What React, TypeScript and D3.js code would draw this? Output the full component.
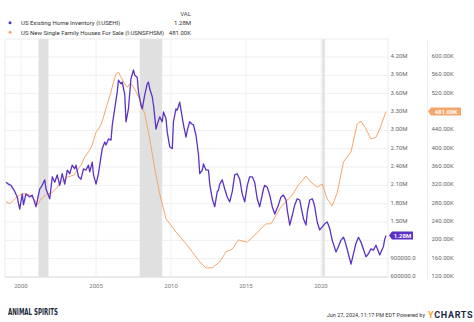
import React from "react";
import * as d3 from "d3";

const ehiData: [string, number][] = [
  ["1999-01", 2.15], ["1999-03", 2.12], ["1999-05", 2.1], ["1999-08", 2.0], ["1999-10", 1.91], ["1999-12", 1.71],
  ["2000-02", 1.96], ["2000-03", 1.78], ["2000-05", 1.96], ["2000-08", 1.91], ["2000-10", 1.94],
  ["2001-01", 1.75], ["2001-04", 2.04], ["2001-06", 2.1], ["2001-08", 2.19], ["2001-09", 2.04], ["2001-12", 1.88],
  ["2002-02", 2.24], ["2002-04", 2.15], ["2002-06", 2.27], ["2002-08", 2.1], ["2002-10", 2.29], ["2002-12", 2.12],
  ["2003-02", 2.35], ["2003-04", 2.29], ["2003-06", 2.43], ["2003-08", 2.37], ["2003-09", 2.43], ["2003-11", 2.24],
  ["2004-01", 2.2], ["2004-03", 2.37], ["2004-05", 2.35], ["2004-07", 2.43], ["2004-08", 2.32], ["2004-10", 2.48], ["2004-11", 2.27],
  ["2005-01", 2.12], ["2005-03", 2.29], ["2005-04", 2.43], ["2005-06", 2.7], ["2005-08", 2.81], ["2005-09", 2.76], ["2005-11", 2.86],
  ["2006-01", 2.84], ["2006-02", 3.09], ["2006-04", 3.35], ["2006-06", 3.63], ["2006-07", 3.82], ["2006-09", 3.76], ["2006-10", 3.79], ["2006-12", 3.59],
  ["2007-01", 3.14], ["2007-03", 3.35], ["2007-05", 3.84], ["2007-07", 3.99], ["2007-08", 3.9], ["2007-10", 3.87], ["2007-11", 3.63],
  ["2008-01", 3.41], ["2008-02", 3.35], ["2008-04", 3.58], ["2008-06", 3.76], ["2008-07", 3.79], ["2008-08", 3.68], ["2008-10", 3.55], ["2008-11", 3.41],
  ["2009-01", 3.02], ["2009-02", 3.1], ["2009-04", 3.22], ["2009-06", 3.14], ["2009-07", 3.3], ["2009-09", 3.19], ["2009-10", 2.97], ["2009-12", 2.73],
  ["2010-02", 2.7], ["2010-03", 3.14], ["2010-05", 3.35], ["2010-06", 3.33], ["2010-08", 3.46], ["2010-09", 3.33], ["2010-11", 3.09],
  ["2011-01", 2.89], ["2011-02", 3.0], ["2011-04", 3.14], ["2011-06", 3.1], ["2011-07", 3.09], ["2011-09", 2.92], ["2011-11", 2.6], ["2011-12", 2.29],
  ["2012-02", 2.35], ["2012-03", 2.45], ["2012-05", 2.35], ["2012-07", 2.35], ["2012-08", 2.12], ["2012-10", 1.88], ["2012-12", 1.75],
  ["2013-02", 2.0], ["2013-03", 2.02], ["2013-04", 2.12], ["2013-06", 2.19], ["2013-08", 2.04], ["2013-10", 1.91], ["2013-12", 1.83],
  ["2014-02", 2.0], ["2014-04", 2.27], ["2014-06", 2.29], ["2014-08", 2.2], ["2014-10", 1.96], ["2014-12", 1.83],
  ["2015-02", 2.1], ["2015-04", 2.24], ["2015-06", 2.24], ["2015-08", 2.15], ["2015-10", 1.88], ["2015-12", 1.75],
  ["2016-03", 2.04], ["2016-04", 2.1], ["2016-06", 2.07], ["2016-08", 1.94], ["2016-10", 1.75], ["2016-12", 1.63],
  ["2017-03", 1.78], ["2017-05", 1.91], ["2017-07", 1.94], ["2017-09", 1.86], ["2017-10", 1.7], ["2017-12", 1.45],
  ["2018-02", 1.61], ["2018-04", 1.78], ["2018-06", 1.88], ["2018-08", 1.86], ["2018-09", 1.75], ["2018-11", 1.55],
  ["2019-01", 1.45], ["2019-02", 1.66], ["2019-04", 1.86], ["2019-06", 1.88], ["2019-07", 1.83], ["2019-08", 1.75], ["2019-10", 1.5], ["2019-12", 1.37],
  ["2020-02", 1.42], ["2020-04", 1.47], ["2020-06", 1.5], ["2020-07", 1.45], ["2020-08", 1.39], ["2020-10", 1.2],
  ["2021-01", 1.01], ["2021-03", 1.1], ["2021-05", 1.2], ["2021-07", 1.25], ["2021-08", 1.2], ["2021-10", 1.05],
  ["2022-01", 0.81], ["2022-03", 0.98], ["2022-05", 1.15], ["2022-07", 1.25], ["2022-09", 1.17], ["2022-11", 1.05],
  ["2023-01", 0.93], ["2023-03", 0.98], ["2023-05", 1.06], ["2023-07", 1.04], ["2023-09", 1.12], ["2023-12", 0.96],
  ["2024-01", 1.01], ["2024-03", 1.1], ["2024-04", 1.22], ["2024-05", 1.28],
];

const nsfData: [string, number][] = [
  ["1999-01", 284], ["1999-04", 280], ["1999-08", 290], ["1999-12", 299], ["2000-04", 302], ["2000-08", 299], ["2000-12", 288],
  ["2001-02", 277], ["2001-05", 290], ["2001-10", 302], ["2002-01", 302], ["2002-06", 316], ["2002-09", 327],
  ["2003-02", 338], ["2003-07", 342], ["2003-10", 353], ["2004-01", 364], ["2004-04", 382], ["2004-07", 393], ["2004-10", 408],
  ["2005-01", 436], ["2005-03", 443], ["2005-05", 452], ["2005-07", 469], ["2005-10", 497], ["2006-01", 524], ["2006-03", 545],
  ["2006-05", 563], ["2006-07", 567], ["2006-09", 556], ["2006-12", 541], ["2007-02", 534], ["2007-04", 541], ["2007-06", 539],
  ["2007-08", 530], ["2007-12", 508], ["2008-04", 476], ["2008-08", 421], ["2008-12", 356], ["2009-04", 301], ["2009-09", 247],
  ["2010-01", 233], ["2010-05", 218], ["2010-12", 196], ["2011-06", 175], ["2011-12", 153], ["2012-05", 140], ["2012-10", 140],
  ["2013-04", 153], ["2013-09", 175], ["2014-02", 181], ["2014-07", 201], ["2015-02", 196], ["2015-09", 214], ["2016-05", 236],
  ["2016-09", 236], ["2017-05", 273], ["2018-02", 299], ["2018-07", 321], ["2019-01", 340], ["2019-05", 327], ["2019-10", 316],
  ["2020-02", 323], ["2020-06", 290], ["2020-10", 275], ["2021-02", 305], ["2021-07", 371], ["2021-11", 386], ["2022-01", 393],
  ["2022-06", 454], ["2022-09", 460], ["2023-01", 443], ["2023-05", 421], ["2023-09", 425], ["2023-12", 443], ["2024-05", 481],
];

const recessions: [string, string][] = [["2001-03", "2001-11"], ["2007-12", "2009-06"], ["2020-02", "2020-04"]];

const leftTickValues = [0.6, 0.9, 1.2, 1.5, 1.8, 2.1, 2.4, 2.7, 3.0, 3.3, 3.6, 3.9, 4.2];
const leftTickLabels = ["600000.0", "900000.0", "1.20M", "1.50M", "1.80M", "2.10M", "2.40M", "2.70M", "3.00M", "3.30M", "3.60M", "3.90M", "4.20M"];
const rightTickValues = [120, 160, 200, 240, 280, 320, 360, 400, 440, 480, 520, 560, 600];
const rightTickLabels = ["120.00K", "160.00K", "200.00K", "240.00K", "280.00K", "320.00K", "360.00K", "400.00K", "440.00K", "480.00K", "520.00K", "560.00K", "600.00K"];
const yearTicks = [2000, 2005, 2010, 2015, 2020];

const seriesNames = ["US Existing Home Inventory (I:USEHI)", "US New Single Family Houses For Sale (I:USNSFHSM)"];
const seriesValues = ["1.28M", "481.00K"];

const PURPLE = "#5b31c6";
const ORANGE = "#f6a66a";
const FONT = "Roboto, 'Noto Sans', sans-serif";

export default function App() {
  const parse = d3.timeParse("%Y-%m")!;
  const L = 5, R = 388, T = 39, B = 277;
  const x = d3.scaleTime().domain([new Date(2000, 0, 1), new Date(2020, 0, 1)]).range([21, 321]);
  const yL = d3.scaleLinear().domain([0.6, 4.2]).range([277, 57]);
  const yR = d3.scaleLinear().domain([120, 600]).range([277, 57]);

  const lineL = d3.line<[string, number]>().x(d => x(parse(d[0])!)).y(d => yL(d[1]));
  const lineR = d3.line<[string, number]>().x(d => x(parse(d[0])!)).y(d => yR(d[1]));

  const lastL = ehiData[ehiData.length - 1];
  const lastR = nsfData[nsfData.length - 1];
  const badgeL = yL(lastL[1]);
  const badgeR = yR(lastR[1]);

  const badge = (tipX: number, cy: number, w: number, color: string, label: string) => (
    <g>
      <path d={`M${tipX},${cy} L${tipX + 3},${cy - 4} L${tipX + 3 + w},${cy - 4} L${tipX + 3 + w},${cy + 4} L${tipX + 3},${cy + 4} Z`} fill={color} />
      <text x={tipX + 3 + w / 2} y={cy + 2.1} textAnchor="middle" fontSize={6} fontWeight="bold" fill="#fff" fontFamily={FONT}>{label}</text>
    </g>
  );

  return (
    <svg width={474} height={322} style={{ position: "absolute", left: 0, top: 0, background: "#fff" }} fontFamily={FONT}>
      <defs>
        <clipPath id="plotclip"><rect x={L} y={T} width={R - L} height={B - T} /></clipPath>
      </defs>
      {/* legend */}
      <text x={191} y={15.5} textAnchor="end" fontSize={6} fill="#444">VAL</text>
      {seriesNames.map((n, i) => (
        <g key={n}>
          <circle cx={10} cy={22.8 + i * 9.5} r={1.5} fill={i === 0 ? PURPLE : ORANGE} />
          <text x={21} y={25 + i * 9.5} fontSize={6} fill="#333">{n}</text>
          <text x={191} y={25 + i * 9.5} textAnchor="end" fontSize={6} fill="#333">{seriesValues[i]}</text>
        </g>
      ))}

      {/* plot frame & grid */}
      <rect x={L} y={T} width={R - L} height={B - T} fill="none" stroke="#ececec" strokeWidth={1} />
      {leftTickValues.map(v => (
        <line key={v} x1={L} x2={R} y1={yL(v)} y2={yL(v)} stroke="#efefef" strokeWidth={1} />
      ))}
      {yearTicks.map(yr => (
        <line key={yr} x1={x(new Date(yr, 0, 1))} x2={x(new Date(yr, 0, 1))} y1={T} y2={B} stroke="#f0f0f0" strokeWidth={1} />
      ))}
      <g clipPath="url(#plotclip)">
        {recessions.map(([a, b]) => (
          <rect key={a} x={x(parse(a)!)} y={T} width={x(parse(b)!) - x(parse(a)!)} height={B - T} fill="#e0e0e0" />
        ))}
        <path d={lineR(nsfData)!} fill="none" stroke={ORANGE} strokeWidth={1} strokeLinejoin="round" />
        <path d={lineL(ehiData)!} fill="none" stroke={PURPLE} strokeWidth={1.3} strokeLinejoin="round" />
      </g>
      <line x1={L} x2={R} y1={B} y2={B} stroke="#e2e2e2" strokeWidth={1} />
      <line x1={427.5} x2={427.5} y1={T} y2={B + 2} stroke="#f0f0f0" strokeWidth={1} />

      {/* axes labels (those covered by the value badges are hidden) */}
      {leftTickValues.map((v, i) => (
        Math.abs(yL(v) - badgeL) < 8 ? null :
        <text key={v} x={390.5} y={yL(v) + 1} fontSize={6} fill="#666">{leftTickLabels[i]}</text>
      ))}
      {rightTickValues.map((v, i) => (
        Math.abs(yR(v) - badgeR) < 8 ? null :
        <text key={v} x={431.5} y={yR(v) + 1} fontSize={6} fill="#666">{rightTickLabels[i]}</text>
      ))}
      {yearTicks.map(yr => (
        <text key={yr} x={x(new Date(yr, 0, 1))} y={287.5} textAnchor="middle" fontSize={6} fill="#777">{yr}</text>
      ))}

      {badge(389, badgeL, 21, PURPLE, seriesValues[0])}
      {badge(428, badgeR, 30, ORANGE, seriesValues[1])}

      {/* footer */}
      <text x={8} y={315} fontSize={9} fontWeight="bold" fill="#1e2b3b" fontFamily="'DejaVu Sans Condensed', sans-serif" textLength={50} lengthAdjust="spacingAndGlyphs">ANIMAL SPIRITS</text>
      <text x={425} y={317} textAnchor="end" fontSize={5.5} fill="#333">Jun 27, 2024, 11:17 PM EDT Powered by</text>
      <text x={428} y={318} fontSize={9} fontWeight="bold" fill="#1b2a44" letterSpacing={0.7}>
        <tspan fill="#f5a623">Y</tspan>CHARTS
      </text>
    </svg>
  );
}
